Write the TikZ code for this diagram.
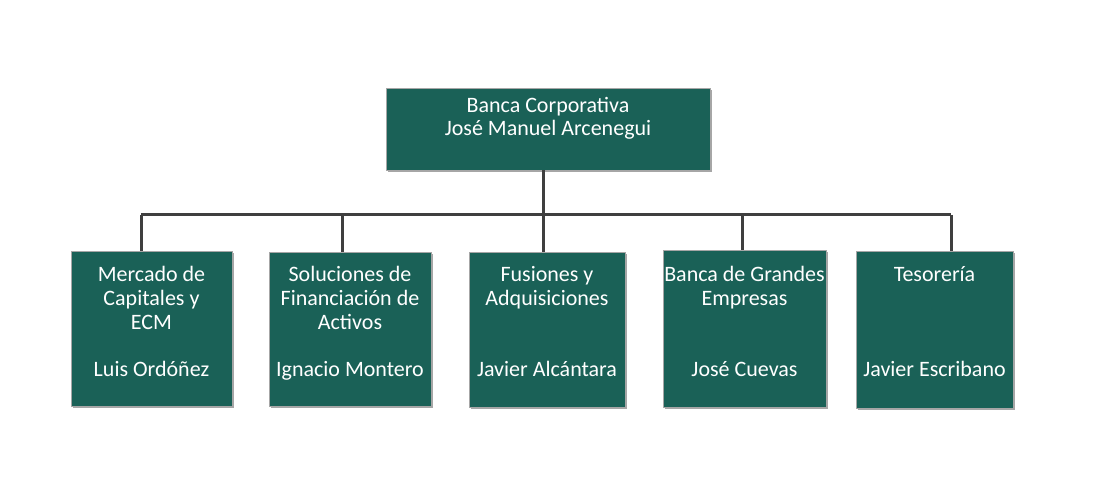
\documentclass[tikz,border=0pt]{standalone}
\usepackage{fontspec}
\setmainfont{Carlito}
\usetikzlibrary{shadows}
\definecolor{teal1}{HTML}{1A6157}
\definecolor{conn}{HTML}{3F3F3F}
\tikzset{
  box/.style={draw=gray!70, line width=0.8pt, fill=teal1, rectangle, inner sep=0pt,
    drop shadow={shadow xshift=2pt, shadow yshift=-2pt, fill=black, opacity=0.35}},
  txt/.style={text=white, font=\fontsize{22}{24}\selectfont, align=center, inner sep=0pt, anchor=base},
  link/.style={draw=conn, line width=3pt}
}
\begin{document}
\begin{tikzpicture}[x=1pt,y=-1pt]
\useasboundingbox (0,0) rectangle (1096,478);
% boxes
\node[box, minimum width=324pt, minimum height=82pt] (top) at (548,129) {};
\node[box, minimum width=161pt, minimum height=155pt] (b1) at (151.5,328.5) {};
\node[box, minimum width=162pt, minimum height=154pt] (b2) at (350,329) {};
\node[box, minimum width=156pt, minimum height=155pt] (b3) at (547,329.5) {};
\node[box, minimum width=163pt, minimum height=157pt] (b4) at (744.5,328.5) {};
\node[box, minimum width=157pt, minimum height=157pt] (b5) at (934.5,329.5) {};
% connectors
\coordinate (bus) at (543,215);
\coordinate (c1) at (141,215);
\coordinate (c2) at (342,215);
\coordinate (c3) at (543,215);
\coordinate (c4) at (742,215);
\coordinate (c5) at (951,215);
\draw[link] (bus |- top.south) -- (bus);
\draw[link] (c1) -- (c5);
\draw[link] (c1) -- (c1 |- b1.north);
\draw[link] (c2) -- (c2 |- b2.north);
\draw[link] (c3) -- (c3 |- b3.north);
\draw[link] (c4) -- (c4 |- b4.north);
\draw[link] (c5) -- (c5 |- b5.north);
% texts (anchor = baseline of last line)
\node[txt, font=\fontsize{22}{23}\selectfont] (t0) at (548,136) {Banca Corporativa\\José Manuel Arcenegui};
\node[txt] (t1) at (151.5,330) {Mercado de\\Capitales y\\ECM};
\node[txt] (n1) at (151.5,377) {Luis Ordóñez};
\node[txt] (t2) at (350,330) {Soluciones de\\Financiación de\\Activos};
\node[txt] (n2) at (350,377) {Ignacio Montero};
\node[txt] (t3) at (547,306) {Fusiones y\\Adquisiciones};
\node[txt] (n3) at (547,377) {Javier Alcántara};
\node[txt] (t4) at (744.5,306) {Banca de Grandes\\Empresas};
\node[txt] (n4) at (744.5,377) {José Cuevas};
\node[txt] (t5) at (934.5,282) {Tesorería};
\node[txt] (n5) at (934.5,377) {Javier Escribano};
\end{tikzpicture}
\end{document}
